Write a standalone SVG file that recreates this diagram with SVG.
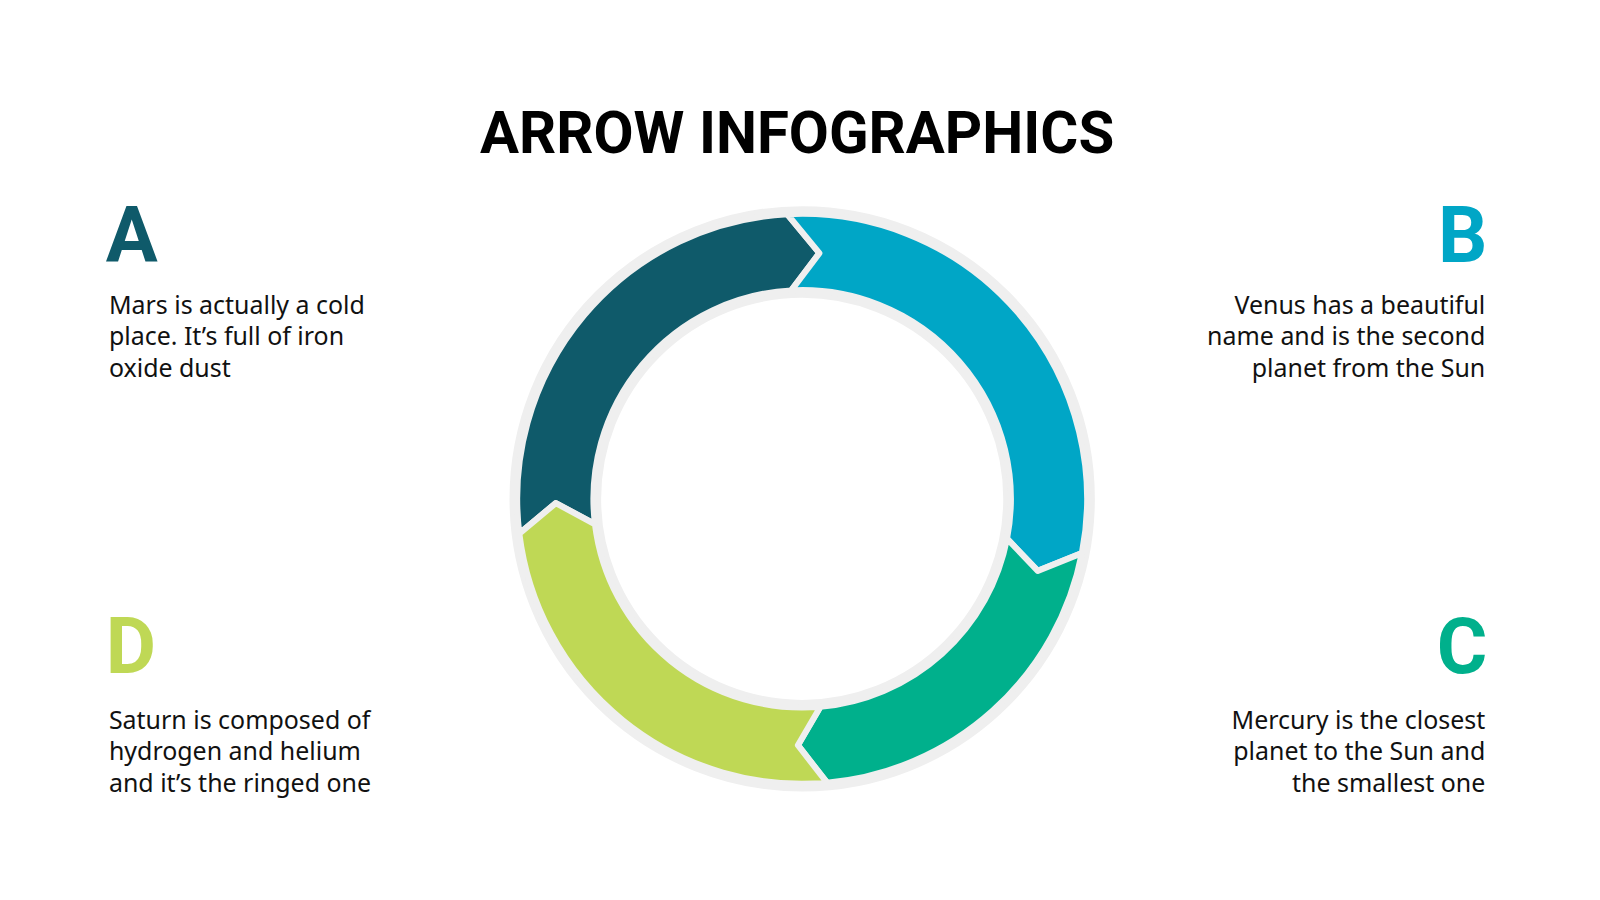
<svg xmlns="http://www.w3.org/2000/svg" width="1600" height="900" viewBox="0 0 1600 900">
<style>
.seg{stroke:#efefef;stroke-width:6;stroke-linejoin:round}
.body{font-family:"Noto Sans","Open Sans",sans-serif;font-size:24.5px;fill:#111}
.let{font-family:"Roboto","Liberation Sans",sans-serif;font-weight:bold;font-size:76px}
</style>
<rect width="1600" height="900" fill="#fff"/>
<g transform="scale(1.018)">
<text x="783" y="150" text-anchor="middle" font-family="Roboto,'Liberation Sans',sans-serif" font-weight="bold" font-size="58" textLength="623" lengthAdjust="spacingAndGlyphs" fill="#000">ARROW INFOGRAPHICS</text>
<g id="ring">
<circle cx="788" cy="490" r="242.5" fill="none" stroke="#efefef" stroke-width="90"/>
</g>
<g id="connectors"></g>
<g id="seg-a"><path class="seg" fill="#0f5a6a" d="M584.5,515.0 L546.0,494.2 L510.1,524.1 A280,280 0 0 1 773.4,210.4 L804.9,248.6 L777.3,285.3 A205,205 0 0 0 584.5,515.0 Z"/></g>
<g id="seg-b"><path class="seg" fill="#00a6c6" d="M777.3,285.3 L804.9,248.6 L773.4,210.4 A280,280 0 0 1 1062.8,543.4 L1019.4,560.8 L989.2,529.1 A205,205 0 0 0 777.3,285.3 Z"/></g>
<g id="seg-c"><path class="seg" fill="#00b08c" d="M989.2,529.1 L1019.4,560.8 L1062.8,543.4 A280,280 0 0 1 812.4,768.9 L783.8,732.0 L805.9,694.2 A205,205 0 0 0 989.2,529.1 Z"/></g>
<g id="seg-d"><path class="seg" fill="#bfd855" d="M805.9,694.2 L783.8,732.0 L812.4,768.9 A280,280 0 0 1 510.1,524.1 L546.0,494.2 L584.5,515.0 A205,205 0 0 0 805.9,694.2 Z"/></g>
<g id="node-a">
<text class="let" x="104" y="257" fill="#0f5a6a">A</text>
<text class="body" x="107"><tspan x="107" y="308">Mars is actually a cold</tspan><tspan x="107" y="339">place. It’s full of iron</tspan><tspan x="107" y="370">oxide dust</tspan></text>
</g>
<g id="node-b">
<text class="let" x="1461" y="257" text-anchor="end" fill="#00a6c6">B</text>
<text class="body" text-anchor="end"><tspan x="1459" y="308">Venus has a beautiful</tspan><tspan x="1459" y="339">name and is the second</tspan><tspan x="1459" y="370">planet from the Sun</tspan></text>
</g>
<g id="node-c">
<text class="let" x="1461" y="661" text-anchor="end" fill="#00b08c">C</text>
<text class="body" text-anchor="end"><tspan x="1459" y="716">Mercury is the closest</tspan><tspan x="1459" y="747">planet to the Sun and</tspan><tspan x="1459" y="778">the smallest one</tspan></text>
</g>
<g id="node-d">
<text class="let" x="104" y="661" fill="#bfd855">D</text>
<text class="body"><tspan x="107" y="716">Saturn is composed of</tspan><tspan x="107" y="747">hydrogen and helium</tspan><tspan x="107" y="778">and it’s the ringed one</tspan></text>
</g>
</g>
</svg>
